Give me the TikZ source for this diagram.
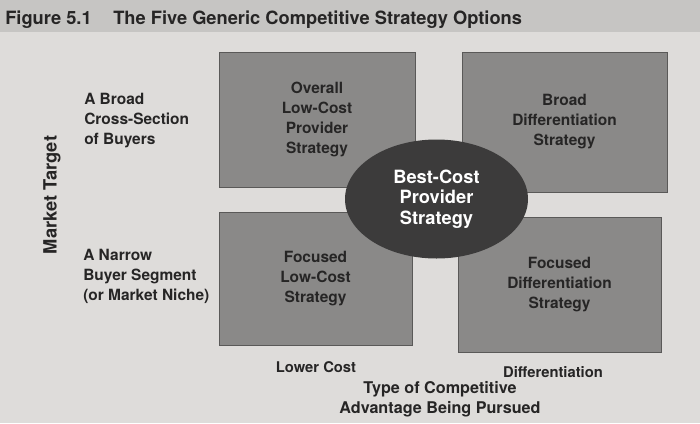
\documentclass[tikz,border=0pt]{standalone}
\usepackage{fontspec}
\setmainfont{TeX Gyre Heros}
\usepackage{tikz}
\usetikzlibrary{shapes.geometric}
\definecolor{pagebg}{HTML}{DEDCDA}
\definecolor{bandbg}{HTML}{C6C5C3}
\definecolor{boxfill}{HTML}{8A8988}
\definecolor{boxline}{HTML}{5A5958}
\definecolor{ovalfill}{HTML}{3C3B3B}
\definecolor{ink}{HTML}{262525}
\tikzset{every node/.style={font=\bfseries\fontsize{10.5}{14.2}\selectfont,text=ink,align=center,inner sep=0pt}}
\tikzset{box/.style={rectangle,draw=boxline,line width=0.6pt,fill=boxfill,font=\bfseries\fontsize{11}{14.2}\selectfont}}
\tikzset{oval/.style={ellipse,fill=ovalfill,text=white,font=\bfseries\fontsize{13}{14.6}\selectfont}}
\tikzset{lbl/.style={anchor=west,align=left,font=\bfseries\fontsize{11}{14.2}\selectfont}}

\begin{document}
\begin{tikzpicture}[x=0.025cm,y=-0.025cm]
      \useasboundingbox (0,0) rectangle (700,423);
      \fill[pagebg] (0,0) rectangle (700,423);
      \fill[bandbg] (0,0) rectangle (700,32);
      \node[anchor=base west,font=\bfseries\fontsize{13}{15}\selectfont] (fig) at (5,24) {Figure 5.1};
      \node[anchor=base west,font=\bfseries\fontsize{13}{15}\selectfont] (title) at (113,24) {The Five Generic Competitive Strategy Options};
      \foreach \n/\x/\y/\w/\h/\t in {tl/317/119.5/196/135/{Overall\\Low-Cost\\Provider\\Strategy},
                                    tr/564.5/122/205/140/{Broad\\Differentiation\\Strategy},
                                    bl/315.5/278.5/193/133/{Focused\\Low-Cost\\Strategy},
                                    br/559.5/284.5/203/135/{Focused\\Differentiation\\Strategy}}
        \node[box,minimum width=0.025cm*\w,minimum height=0.025cm*\h] (\n) at (\x,\y) {\t};
      \node[oval,minimum width=0.025cm*183,minimum height=0.025cm*119] (best) at (436.5,199) {Best-Cost\\Provider\\Strategy};
      \node[lbl] (broad) at (84,121) {A Broad\\Cross-Section\\of Buyers};
      \node[lbl] (narrow) at (83,276) {A Narrow\\Buyer Segment\\(or Market Niche)};
      \node[rotate=90,font=\bfseries\fontsize{13}{15}\selectfont] (target) at (52,195) {Market Target};
      \node (lower) at (316,367) {Lower Cost};
      \node (diff) at (553,372) {Differentiation};
      \node[font=\bfseries\fontsize{11.5}{14.2}\selectfont] (type) at (440,399) {Type of Competitive\\Advantage Being Pursued};
\end{tikzpicture}
\end{document}
